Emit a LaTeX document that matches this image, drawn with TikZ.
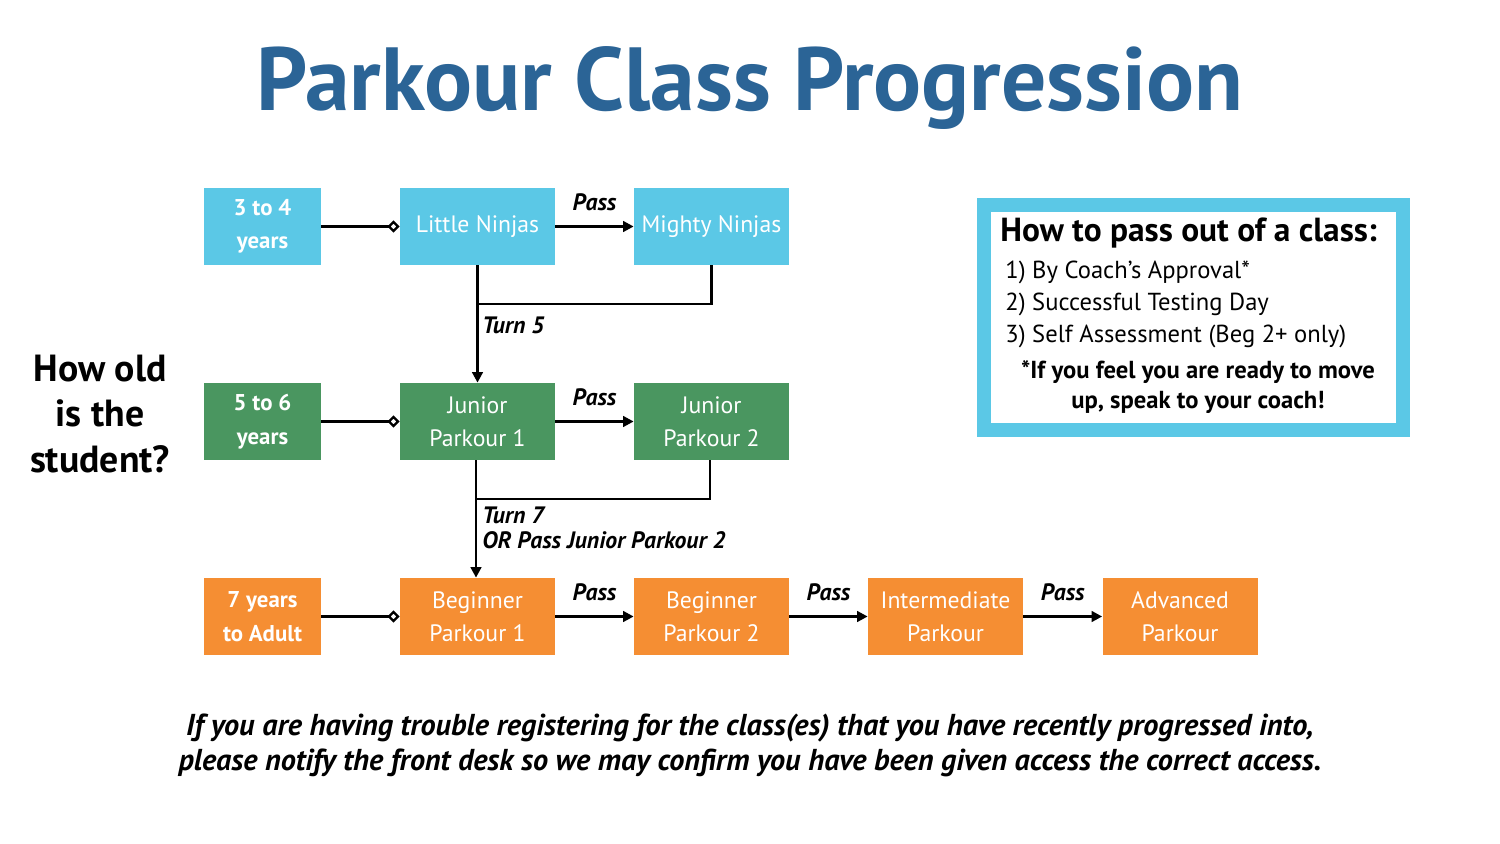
\documentclass[tikz,border=0pt]{standalone}
\usepackage{fontspec}
\setmainfont{PT Sans}
\usetikzlibrary{arrows.meta}
\definecolor{cblue}{HTML}{5BC8E6}
\definecolor{cgreen}{HTML}{4A9660}
\definecolor{corange}{HTML}{F58E33}
\definecolor{ctitle}{HTML}{2B6496}
\begin{document}
\begin{tikzpicture}[x=0.02cm,y=-0.02cm,
 box/.style={fill=#1,text=white,minimum width=155*0.02cm,minimum height=77*0.02cm,inner sep=0pt,align=center,font=\fontsize{13.5}{19}\selectfont},
 age/.style={fill=#1,text=white,minimum width=117*0.02cm,minimum height=77*0.02cm,inner sep=0pt,align=center,font=\bfseries\fontsize{13}{19}\selectfont},
 con/.style={line width=1.6pt,-{Diamond[open,length=7pt,width=7pt,line width=1.3pt,fill=white]}},
 arr/.style={line width=1.6pt,-{Triangle[length=6pt,width=6pt]}},
 ln/.style={line width=1.6pt},
 lab/.style={font=\bfseries\itshape\fontsize{13.5}{14}\selectfont,inner sep=0pt}]
\useasboundingbox (0,0) rectangle (1500,844);
\node[text=ctitle,font=\bfseries\fontsize{51}{56}\selectfont] (title) at (750,88) {Parkour Class Progression};
% row 1
\node[age=cblue] (a1) at (262.5,226.5) {3 to 4\\years};
\node[box=cblue] (ln) at (477.5,226.5) {Little Ninjas};
\node[box=cblue] (mn) at (711.5,226.5) {Mighty Ninjas};
% row 2
\node[age=cgreen] (a2) at (262.5,421.5) {5 to 6\\years};
\node[box=cgreen] (j1) at (477.5,421.5) {Junior\\Parkour 1};
\node[box=cgreen] (j2) at (711.5,421.5) {Junior\\Parkour 2};
% row 3
\node[age=corange] (a3) at (262.5,616.5) {7 years\\to Adult};
\node[box=corange] (b1) at (477.5,616.5) {Beginner\\Parkour 1};
\node[box=corange] (b2) at (711.5,616.5) {Beginner\\Parkour 2};
\node[box=corange] (ip) at (945.5,616.5) {Intermediate\\Parkour};
\node[box=corange] (ap) at (1180,616.5) {Advanced\\Parkour};
\draw[con] (a1) -- (ln); \draw[con] (a2) -- (j1); \draw[con] (a3) -- (b1);
\draw[arr] (ln) -- node[lab,above=8pt]{Pass} (mn);
\draw[arr] (j1) -- node[lab,above=8pt]{Pass} (j2);
\draw[arr] (b1) -- node[lab,above=8pt]{Pass} (b2);
\draw[arr] (b2) -- node[lab,above=8pt]{Pass} (ip);
\draw[arr] (ip) -- node[lab,above=8pt]{Pass} (ap);
\draw[arr] (ln) -- (j1);
\draw[ln] (mn.south) |- (477,304);
\node[lab,anchor=west] (t5) at (482,325) {Turn 5};
\draw[arr] (j1.south -| 476,0) -- (b1.north -| 476,0);
\draw[ln] (j2.south -| 710,0) |- (476,499);
\node[lab,anchor=west,align=left] (t7) at (482,528) {Turn 7\\OR Pass Junior Parkour 2};
\node[font=\bfseries\fontsize{21.5}{26}\selectfont,align=center] (q) at (100,414) {How old\\is the\\student?};
% info box
\draw[cblue,line width=14*0.02cm,fill=white] (984,205) rectangle (1403,430);
\node[anchor=north west,inner sep=0pt,font=\bfseries\fontsize{19}{20}\selectfont] (h) at (1000,218) {How to pass out of a class:};
\node[anchor=north west,inner sep=0pt,align=left,font=\fontsize{14}{18}\selectfont] (l) at (1005,261) {1) By Coach's Approval*\\2) Successful Testing Day\\3) Self Assessment (Beg 2+ only)};
\node[inner sep=0pt,align=center,font=\bfseries\fontsize{14}{17.5}\selectfont] (n) at (1198,387) {*If you feel you are ready to move\\up, speak to your coach!};
\node[align=center,font=\bfseries\itshape\fontsize{17.2}{20}\selectfont] (f) at (750,745) {If you are having trouble registering for the class(es) that you have recently progressed into,\\please notify the front desk so we may confirm you have been given access the correct access.};
\end{tikzpicture}
\end{document}
